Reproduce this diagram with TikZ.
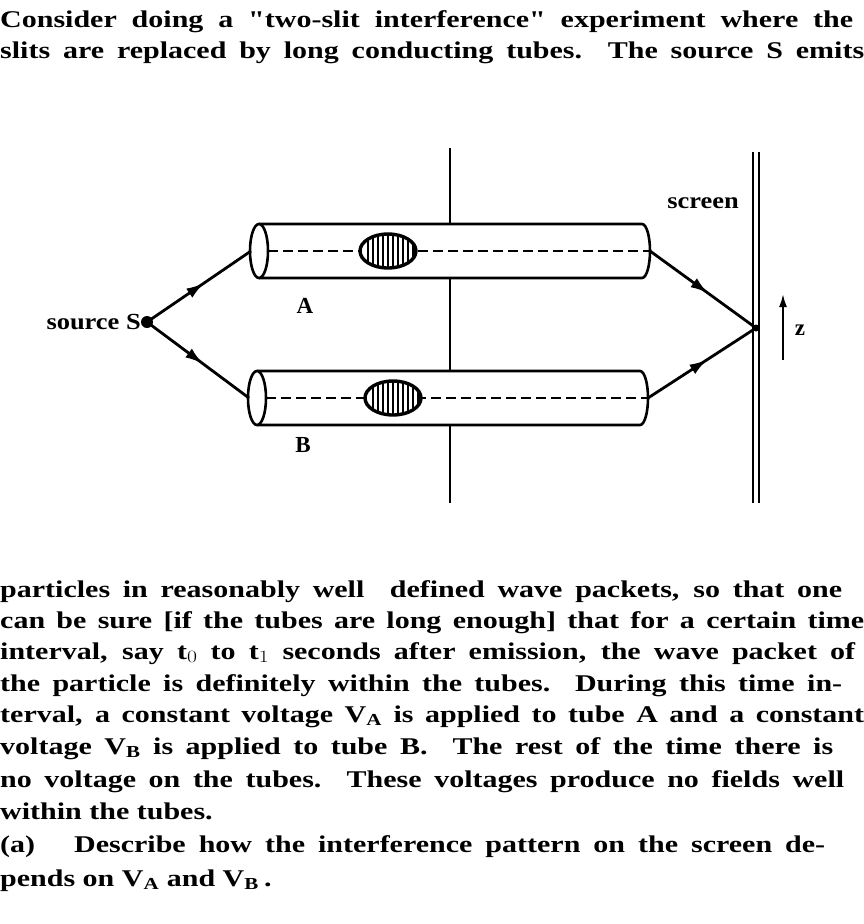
\documentclass[tikz,border=0pt]{standalone}
\usepackage{fontspec}
\usepackage{graphicx}
\setmainfont{Liberation Serif}
\usetikzlibrary{decorations.markings,arrows.meta}
\tikzset{
  txt/.style={anchor=base west,inner sep=0pt,font=\fontsize{24}{30}\selectfont\bfseries},
  lbl/.style={inner sep=0pt,font=\fontsize{23}{28}\selectfont\bfseries},
  ln/.style={line width=2pt},
  tube/.style={line width=2.6pt},
  midarrow/.style={line width=2.8pt,postaction={decorate},decoration={markings,mark=at position 0.55 with {\arrow{Latex[length=18pt,width=11pt]}}}},
}
\begin{document}
\begin{tikzpicture}[x=1pt,y=-1pt]
\useasboundingbox (0,0) rectangle (864,924);
\fill[white] (0,0) rectangle (864,924);
\node[txt] (t1) at (0,27) {\scalebox{1.25}[1]{\makebox[682.4pt][s]{Consider doing a \textquotedbl two-slit interference\textquotedbl{} experiment where the}}};
\node[txt] (t2) at (0,58) {\scalebox{1.25}[1]{\makebox[691.2pt][s]{slits are replaced by long conducting tubes.\ \ The source S emits}}};
\draw[ln] (450,148) coordinate (w1) -- (450,503) coordinate (w2);
\draw[line width=1.8pt] (753,152) coordinate (s1) -- (753,503);
\draw[line width=1.8pt] (759,152) coordinate (s2) -- (759,503);
\foreach \n/\xl/\xr/\yc/\px in {A/259/642/251/388, B/257/640/398/393}{
  \fill[white] (\xl,\yc-27) rectangle (\xr,\yc+27);
  \draw[tube] (\xl,\yc-27) -- (\xr,\yc-27) arc[start angle=90,end angle=-90,x radius=8,y radius=-27] -- (\xl,\yc+27);
  \draw[tube,fill=white] (\xl,\yc) ellipse[x radius=9,y radius=27];
  \coordinate (L\n) at (\xl-8,\yc);
  \coordinate (R\n) at (\xr+8,\yc);
  \draw[line width=2.4pt,dash pattern=on 10pt off 5pt] (\xl+9,\yc) -- (\xr+8,\yc);
  \begin{scope}
    \clip (\px,\yc) ellipse[x radius=28,y radius=17];
    \fill[white] (\px,\yc) ellipse[x radius=28,y radius=17];
    \foreach \k in {-20,-15,...,25}{\draw[line width=2.6pt] (\px+\k,\yc-20) -- (\px+\k,\yc+20);}
  \end{scope}
  \draw[line width=3.4pt] (\px,\yc) ellipse[x radius=28,y radius=17];
}
\fill (147,322) circle (6pt);
\coordinate (S) at (147,322);
\node[lbl,anchor=base east] (src) at (141,329) {\scalebox{1.15}[1]{source S}};
\coordinate (P) at (756,328);
\draw[midarrow] (S) -- (LA);
\draw[midarrow] (S) -- (LB);
\draw[midarrow] (RA) -- (P);
\draw[midarrow] (RB) -- (P);
\fill (P) circle (3.5pt);
\node[lbl] (la) at (305,306) {A};
\node[lbl] (lb) at (303,445) {B};
\node[lbl] (scr) at (703,203) {\scalebox{1.15}[1]{screen}};
\coordinate (z1) at (783,360);
\coordinate (z2) at (783,294);
\draw[line width=2pt,-{Latex[length=13pt,width=8pt]}] (z1) -- (z2);
\node[lbl] (z) at (800,330) {z};
\node[txt] (b1) at (0,597) {\scalebox{1.25}[1]{\makebox[673.6pt][s]{particles in reasonably well \ defined wave packets, so that one}}};
\node[txt] (b2) at (0,628) {\scalebox{1.25}[1]{\makebox[691.2pt][s]{can be sure [if the tubes are long enough] that for a certain time}}};
\node[txt] (b3) at (0,659) {\scalebox{1.25}[1]{\makebox[684pt][s]{interval, say t$_0$ to t$_1$ seconds after emission, the wave packet of}}};
\node[txt] (b4) at (0,691) {\scalebox{1.25}[1]{\makebox[673.6pt][s]{the particle is definitely within the tubes.\ \ During this time in-}}};
\node[txt] (b5) at (0,722) {\scalebox{1.25}[1]{\makebox[691.2pt][s]{terval, a constant voltage V$_{\mathbf A}$ is applied to tube A and a constant}}};
\node[txt] (b6) at (0,754) {\scalebox{1.25}[1]{\makebox[666.4pt][s]{voltage V$_{\mathbf B}$ is applied to tube B.\ \ The rest of the time there is}}};
\node[txt] (b7) at (0,787) {\scalebox{1.25}[1]{\makebox[675.2pt][s]{no voltage on the tubes.\ \ These voltages produce no fields well}}};
\node[txt] (b8) at (0,819) {\scalebox{1.25}[1]{within the tubes.}};
\node[txt] (b9) at (0,852) {\scalebox{1.25}[1]{\makebox[660pt][s]{(a)\ \ \ Describe how the interference pattern on the screen de-}}};
\node[txt] (b10) at (0,886) {\scalebox{1.25}[1]{pends on V$_{\mathbf A}$\ and V$_{\mathbf B}$\,.}};
\end{tikzpicture}
\end{document}
